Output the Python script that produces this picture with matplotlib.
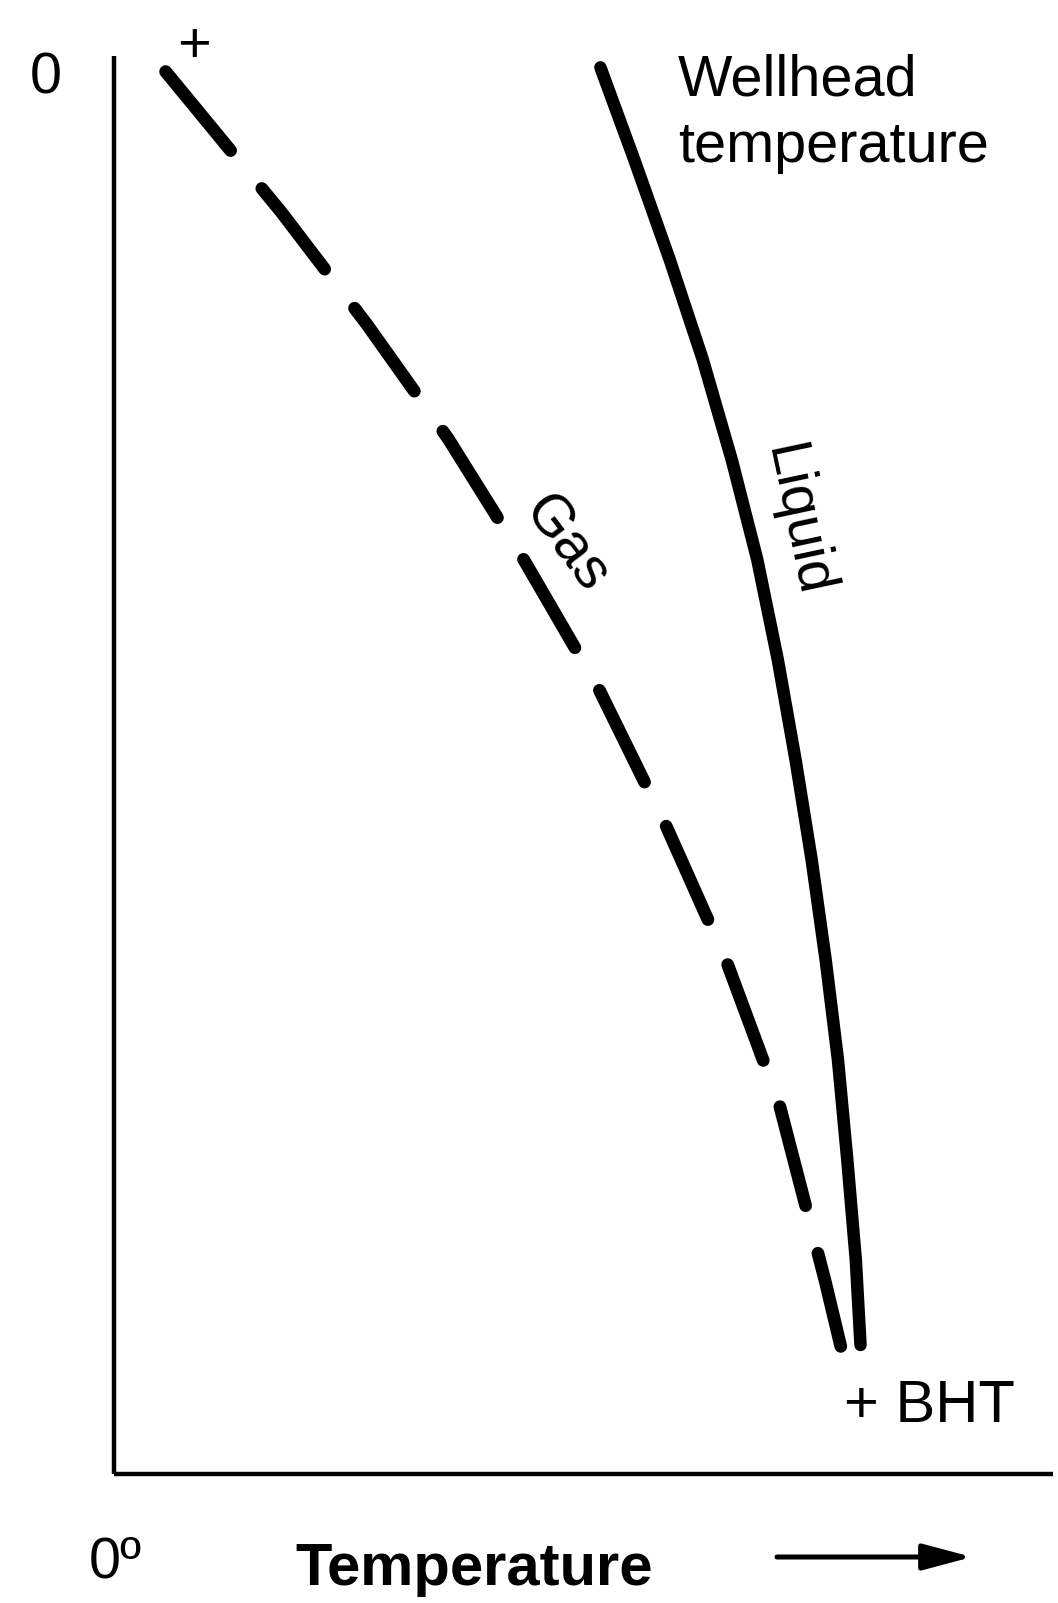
import numpy as np
import matplotlib
matplotlib.use("Agg")
import matplotlib.pyplot as plt

plt.rcParams['font.family'] = ['Liberation Sans', 'DejaVu Sans']

########### Profiles (temperature, depth in arbitrary units 0-100)

gas_temp = [5.5, 17.8, 26.9, 35.6, 43.8, 51.6, 58.8, 65.2, 70.8, 75.7, 77.4]
gas_depth = [1.1, 11.0, 18.9, 27.0, 35.7, 44.6, 54.3, 63.8, 73.8, 86.3, 91.0]

liquid_temp = [51.8, 55.4, 59.2, 62.7, 65.8, 68.5, 70.7, 72.6, 74.3, 75.8,
               77.1, 78.1, 79.0, 79.5]
liquid_depth = [0.8, 7.3, 14.4, 21.4, 28.5, 35.5, 42.6, 49.7, 56.7, 63.8,
                70.8, 77.9, 84.9, 90.9]

W, H = 1058, 1603


def fx(x):
    return x / W


def fy(y):
    return 1 - y / H


fig = plt.figure(figsize=(W / 100, H / 100), dpi=100)
fig.patch.set_facecolor('white')
ax = fig.add_axes([fx(114), fy(1474), (1053 - 114) / W, (1474 - 56) / H])

ax.plot(liquid_temp, liquid_depth, color='black', lw=9.0, solid_capstyle='round',
        solid_joinstyle='round')
ax.plot(gas_temp, gas_depth, color='black', lw=9.2, dashes=(8.0, 3.85),
        dash_capstyle='round', dash_joinstyle='round')

ax.set_xlim(0, 100)
ax.set_ylim(100, 0)
ax.set_xticks([])
ax.set_yticks([])
for s in ['top', 'right']:
    ax.spines[s].set_visible(False)
for s in ['left', 'bottom']:
    ax.spines[s].set_linewidth(3.2)
    ax.spines[s].set_capstyle('butt')

########### Labels

fs = 41.5
fig.text(fx(30), fy(93), '0', fontsize=fs, ha='left', va='baseline')
fig.text(fx(177), fy(62), '+', fontsize=fs, ha='left', va='baseline')
fig.text(fx(678), fy(95), 'Wellhead', fontsize=fs, ha='left', va='baseline')
fig.text(fx(678), fy(162), 'temperature', fontsize=fs, ha='left', va='baseline')
fig.text(fx(797), fy(521), 'Liquid', fontsize=fs, ha='center', va='center',
         rotation=-78, rotation_mode='anchor')
fig.text(fx(565), fy(544), 'Gas', fontsize=fs, ha='center', va='center',
         rotation=-53, rotation_mode='anchor')
fig.text(fx(844), fy(1422), '+ BHT', fontsize=43, ha='left', va='baseline')
fig.text(fx(89), fy(1578), '0º', fontsize=fs, ha='left', va='baseline')
fig.text(fx(295), fy(1585), 'Temperature', fontsize=43, fontweight='bold',
         ha='left', va='baseline')

ax.annotate('', xy=(fx(972), fy(1557)), xytext=(fx(777), fy(1557)),
            xycoords='figure fraction', textcoords='figure fraction',
            arrowprops=dict(arrowstyle='-|>,head_length=1.5,head_width=0.4',
                            mutation_scale=20, lw=3.6, color='black',
                            shrinkA=0, shrinkB=0))

fig.savefig('out.png', dpi=100, facecolor='white')
